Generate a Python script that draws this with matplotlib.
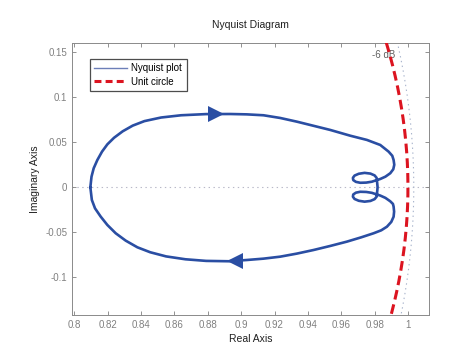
import numpy as np
import matplotlib
matplotlib.use("Agg")
import matplotlib.pyplot as plt
from matplotlib.lines import Line2D

plt.rcParams['font.family'] = ['Liberation Sans', 'DejaVu Sans']
plt.rcParams['axes.unicode_minus'] = False
plt.rcParams['lines.scale_dashes'] = False

# Nyquist curve (closed path): upper half, left -> right
up_x = [0.8096, 0.8103, 0.8116, 0.8138, 0.8166, 0.8198, 0.8238, 0.8290, 0.8350, 0.8420,
        0.8520, 0.8640, 0.8790, 0.8935, 0.9034, 0.9134, 0.9234, 0.9334, 0.9434, 0.9534,
        0.9654, 0.9754, 0.9834, 0.9884, 0.9906, 0.9914, 0.9918, 0.9912, 0.9894, 0.9865,
        0.9834, 0.9808, 0.9784, 0.9750, 0.9714, 0.9688, 0.9672, 0.9670, 0.9680, 0.9705,
        0.9740, 0.9775, 0.9800, 0.9812, 0.9814, 0.9816, 0.9818]
up_y = [0.0000, 0.0118, 0.0211, 0.0303, 0.0396, 0.0477, 0.0550, 0.0622, 0.0685, 0.0735,
        0.0775, 0.0800, 0.0813, 0.0814, 0.0810, 0.0800, 0.0770, 0.0729, 0.0683, 0.0637,
        0.0573, 0.0526, 0.0470, 0.0396, 0.0350, 0.0303, 0.0250, 0.0200, 0.0156, 0.0118,
        0.0092, 0.0077, 0.0062, 0.0052, 0.0050, 0.0060, 0.0080, 0.0105, 0.0130, 0.0150,
        0.0160, 0.0152, 0.0132, 0.0105, 0.0077, 0.0040, 0.0000]
# lower half, right -> left
lo_x = [0.9816, 0.9814, 0.9812, 0.9800, 0.9775, 0.9740, 0.9705, 0.9680, 0.9670, 0.9672,
        0.9688, 0.9714, 0.9750, 0.9784, 0.9808, 0.9834, 0.9865, 0.9894, 0.9910, 0.9914,
        0.9917, 0.9914, 0.9900, 0.9874, 0.9840, 0.9794, 0.9720, 0.9634, 0.9534, 0.9434,
        0.9334, 0.9234, 0.9134, 0.9034, 0.8926, 0.8790, 0.8666, 0.8550, 0.8455, 0.8378,
        0.8308, 0.8248, 0.8198, 0.8158, 0.8124, 0.8105, 0.8096]
lo_y = [-0.0040, -0.0077, -0.0105, -0.0132, -0.0152, -0.0160, -0.0150, -0.0130, -0.0105, -0.0080,
        -0.0060, -0.0050, -0.0052, -0.0062, -0.0077, -0.0092, -0.0118, -0.0156, -0.0185, -0.0215,
        -0.0270, -0.0327, -0.0385, -0.0438, -0.0478, -0.0511, -0.0556, -0.0604, -0.0652, -0.0697,
        -0.0737, -0.0771, -0.0793, -0.0808, -0.0822, -0.0818, -0.0800, -0.0768, -0.0722, -0.0667,
        -0.0593, -0.0511, -0.0419, -0.0326, -0.0234, -0.0141, 0.0000]

# direction arrows
arrow_x = [0.8850, 0.8965]
arrow_y = [0.0813, -0.0822]
arrow_marker = ['>', '<']

# grid circle (-6 dB) approximation
grid_cx, grid_r = -0.316, 1.3195
grid_label = '-6 dB'
grid_label_pos = (0.9852, 0.1474)

xticks = [0.8, 0.82, 0.84, 0.86, 0.88, 0.9, 0.92, 0.94, 0.96, 0.98, 1.0]
xticklabels = ['0.8', '0.82', '0.84', '0.86', '0.88', '0.9', '0.92', '0.94', '0.96', '0.98', '1']
yticks = [-0.1, -0.05, 0, 0.05, 0.1, 0.15]
yticklabels = ['-0.1', '-0.05', '0', '0.05', '0.1', '0.15']

blue = '#2a4ea3'
red = '#dc1420'
grey = '#808080'

fig = plt.figure(figsize=(4.74, 3.55), dpi=100)
ax = fig.add_axes([0.1519, 0.1127, 0.7538, 0.7662])

# grid lines
ax.axhline(0, color='#b8b8c8', linestyle=(0, (1, 2.5)), linewidth=0.8, zorder=1)
th = np.linspace(-0.3, 0.3, 400)
ax.plot(grid_cx + grid_r * np.cos(th), grid_r * np.sin(th), color='#a8b4cc',
        linestyle=(0, (1, 2.5)), linewidth=0.8, zorder=1)
ax.text(grid_label_pos[0], grid_label_pos[1], grid_label, color='#606060', fontsize=7,
        ha='center', va='center', zorder=2)

# unit circle
tu = np.linspace(-0.3, 0.3, 600)
ax.plot(np.cos(tu), np.sin(tu), color=red, linewidth=2.2, dashes=(7, 3.6), zorder=3)

# Nyquist plot
ax.plot(up_x + lo_x, up_y + lo_y, color=blue, linewidth=1.9,
        solid_joinstyle='round', solid_capstyle='round', zorder=4)
for xa, ya, m in zip(arrow_x, arrow_y, arrow_marker):
    ax.plot([xa], [ya], marker=m, markersize=11, color=blue, markeredgewidth=0, zorder=5)

ax.set_xlim(0.7986, 1.0128)
ax.set_ylim(-0.1419, 0.1603)
ax.set_xticks(xticks)
ax.set_xticklabels(xticklabels)
ax.set_yticks(yticks)
ax.set_yticklabels(yticklabels)
ax.tick_params(direction='in', length=3, width=0.6, colors=grey, labelsize=7,
               top=True, right=True, labelcolor=grey)
for s in ax.spines.values():
    s.set_color('#8a8a8a')
    s.set_linewidth(0.7)

ax.set_title('Nyquist Diagram', fontsize=7.5, pad=11, color='#202020')
ax.set_xlabel('Real Axis', fontsize=7.5, color='#202020', labelpad=3)
ax.set_ylabel('Imaginary Axis', fontsize=7.5, color='#202020', labelpad=4)

handles = [Line2D([], [], color='#6c7fb8', linewidth=1.0),
           Line2D([], [], color=red, linewidth=2.2, dashes=(5, 3))]
leg = ax.legend(handles, ['Nyquist plot', 'Unit circle'], loc='upper left',
                bbox_to_anchor=(0.037, 0.96), fontsize=7, frameon=True, fancybox=False,
                edgecolor='#202020', handlelength=3.3, handletextpad=0.5,
                borderpad=0.45, labelspacing=0.35)
leg.get_frame().set_linewidth(0.9)

fig.savefig('out.png', dpi=100)
